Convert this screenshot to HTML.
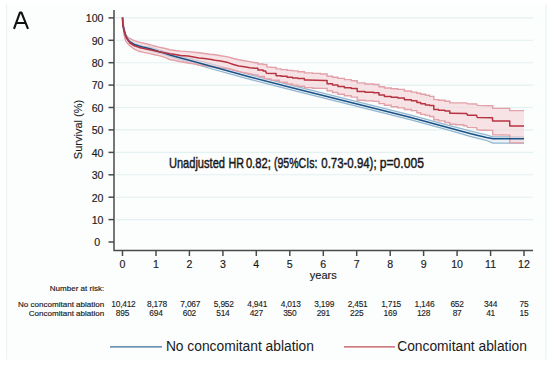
<!DOCTYPE html>
<html><head><meta charset="utf-8"><style>
html,body{margin:0;padding:0;background:#fff;}
svg{display:block;}
text{font-family:"Liberation Sans",sans-serif;fill:#1a1a1a;}
</style></head><body>
<svg width="550" height="367" viewBox="0 0 550 367">
<rect x="0" y="0" width="550" height="367" fill="#fff"/>
<rect x="6" y="3.5" width="540.5" height="356" fill="#fcfdfd"/>
<line x1="6.5" x2="6.5" y1="3.5" y2="359.5" stroke="#edf3f3" stroke-width="1.2"/>
<line x1="546" x2="546" y1="3.5" y2="359.5" stroke="#edf3f3" stroke-width="1.2"/>
<path d="M14,28.8 L19.9,12.6 L21.5,12.6 L28,28.8 M16.1,23.0 L25.9,23.0" fill="none" stroke="#111" stroke-width="2.1" stroke-linejoin="round"/>
<g stroke="#e2f1f1" stroke-width="1.1"><line x1="116" x2="533" y1="219.6" y2="219.6"/><line x1="116" x2="533" y1="197.2" y2="197.2"/><line x1="116" x2="533" y1="174.8" y2="174.8"/><line x1="116" x2="533" y1="152.4" y2="152.4"/><line x1="116" x2="533" y1="129.9" y2="129.9"/><line x1="116" x2="533" y1="107.5" y2="107.5"/><line x1="116" x2="533" y1="85.1" y2="85.1"/><line x1="116" x2="533" y1="62.7" y2="62.7"/><line x1="116" x2="533" y1="40.3" y2="40.3"/><line x1="116" x2="533" y1="17.9" y2="17.9"/></g>
<polygon points="122.5,17.1 122.9,24.6 124.2,30.3 125.3,34.1 126.4,36.8 128.2,39.0 130.0,41.0 134.3,43.5 139.0,45.1 143.8,46.4 150.0,47.1 158.9,49.8 164.3,51.3 169.8,53.2 175.2,54.8 212.0,64.2 250.0,74.6 290.0,84.8 330.0,94.8 370.0,104.8 410.0,114.8 448.7,125.4 470.0,130.8 477.0,132.6 486.5,134.9 493.0,136.8 524.0,136.8 524.0,143.2 493.0,143.2 486.5,140.5 477.0,138.2 470.0,136.4 448.7,130.2 410.0,119.6 370.0,109.6 330.0,99.6 290.0,89.6 250.0,79.4 212.0,69.0 175.2,58.2 169.8,56.6 164.3,54.7 158.9,53.2 150.0,50.5 143.8,48.4 139.0,47.1 134.3,45.5 130.0,43.0 128.2,41.0 126.4,37.6 125.3,34.9 124.2,31.1 122.9,25.4 122.5,17.9" fill="#eaf2f7"/>
<polyline points="122.5,17.1 122.9,24.6 124.2,30.3 125.3,34.1 126.4,36.8 128.2,39.0 130.0,41.0 134.3,43.5 139.0,45.1 143.8,46.4 150.0,47.1 158.9,49.8 164.3,51.3 169.8,53.2 175.2,54.8 212.0,64.2 250.0,74.6 290.0,84.8 330.0,94.8 370.0,104.8 410.0,114.8 448.7,125.4 470.0,130.8 477.0,132.6 486.5,134.9 493.0,136.8 524.0,136.8" fill="none" stroke="#93b7ce" stroke-width="1.25" stroke-linejoin="round"/>
<polyline points="122.5,17.9 122.9,25.4 124.2,31.1 125.3,34.9 126.4,37.6 128.2,41.0 130.0,43.0 134.3,45.5 139.0,47.1 143.8,48.4 150.0,50.5 158.9,53.2 164.3,54.7 169.8,56.6 175.2,58.2 212.0,69.0 250.0,79.4 290.0,89.6 330.0,99.6 370.0,109.6 410.0,119.6 448.7,130.2 470.0,136.4 477.0,138.2 486.5,140.5 493.0,143.2 524.0,143.2" fill="none" stroke="#93b7ce" stroke-width="1.25" stroke-linejoin="round"/>
<polygon points="122.5,17.5 123.8,27.0 124.8,31.0 125.7,34.5 127.6,37.0 129.5,38.3 134.3,40.7 139.0,42.1 143.8,43.2 150.0,44.7 153.4,45.8 158.9,47.1 164.3,48.3 169.8,49.8 175.2,50.5 180.7,51.1 188.0,51.6 193.4,52.1 198.9,52.8 204.3,53.5 209.8,54.3 215.2,54.8 220.7,55.7 228.0,56.9 233.4,58.5 238.9,59.8 244.3,60.7 249.8,61.6 255.2,62.7 257.9,62.7 257.9,64.0 260.7,64.0 263.1,64.0 263.1,64.5 265.6,64.5 266.8,64.5 266.8,67.1 268.0,67.1 271.2,67.1 271.2,67.4 274.5,67.4 276.1,67.4 276.1,68.9 277.8,68.9 281.1,68.9 281.1,69.6 284.3,69.6 287.1,69.6 287.1,70.4 289.8,70.4 292.5,70.4 292.5,70.9 295.2,70.9 297.9,70.9 297.9,71.8 300.7,71.8 304.4,71.8 304.4,72.9 308.0,72.9 312.4,72.9 312.4,73.4 316.7,73.4 320.5,73.4 320.5,74.0 324.3,74.0 327.1,74.0 327.1,76.2 329.8,76.2 332.5,76.2 332.5,77.3 335.2,77.3 337.9,77.3 337.9,78.4 340.7,78.4 344.4,78.4 344.4,79.6 348.0,79.6 351.2,79.6 351.2,80.7 354.5,80.7 357.2,80.7 357.2,82.9 360.0,82.9 364.9,82.9 364.9,84.0 369.8,84.0 373.6,84.0 373.6,84.5 377.4,84.5 379.0,84.5 379.0,86.7 380.7,86.7 384.4,86.7 384.4,88.0 388.0,88.0 391.2,88.0 391.2,88.8 394.5,88.8 397.8,88.8 397.8,89.4 401.1,89.4 404.4,89.4 404.4,91.0 407.6,91.0 411.4,91.0 411.4,92.1 415.2,92.1 416.9,92.1 416.9,93.2 418.5,93.2 420.7,93.2 420.7,94.3 422.9,94.3 425.4,94.3 425.4,95.3 428.0,95.3 429.6,95.3 429.6,96.4 431.3,96.4 433.8,96.4 433.8,99.6 436.2,99.6 438.6,99.6 438.6,100.2 441.1,100.2 444.9,100.2 444.9,101.3 448.7,101.3 449.8,101.3 449.8,102.9 450.9,102.9 466.7,102.9 467.5,103.9 476.5,104.0 477.3,105.4 492.7,105.7 492.8,108.3 509.7,108.4 509.8,110.6 524.0,110.6 524.0,142.9 509.8,142.9 509.7,135.1 492.8,134.8 492.7,130.4 488.9,130.4 488.9,130.2 481.1,130.2 481.1,130.1 477.3,130.1 476.5,127.6 467.5,127.4 466.7,125.8 463.7,125.8 463.7,124.7 460.7,124.7 455.8,124.7 455.8,124.2 450.9,124.2 449.8,124.2 449.8,122.5 448.7,122.5 444.9,122.5 444.9,120.9 441.1,120.9 438.6,120.9 438.6,119.8 436.2,119.8 433.8,119.8 433.8,116.5 431.3,116.5 429.6,116.5 429.6,115.4 428.0,115.4 425.4,115.4 425.4,114.4 422.9,114.4 420.7,114.4 420.7,112.8 418.5,112.8 416.9,112.8 416.9,110.6 415.2,110.6 411.4,110.6 411.4,109.5 407.6,109.5 404.4,109.5 404.4,107.9 401.1,107.9 397.8,107.9 397.8,106.8 394.5,106.8 391.2,106.8 391.2,105.2 388.0,105.2 384.4,105.2 384.4,103.6 380.7,103.6 379.0,103.6 379.0,101.4 377.4,101.4 373.6,101.4 373.6,100.9 369.8,100.9 364.9,100.9 364.9,100.3 360.0,100.3 357.2,100.3 357.2,97.1 354.5,97.1 351.2,97.1 351.2,95.8 348.0,95.8 344.4,95.8 344.4,94.2 340.7,94.2 337.9,94.2 337.9,92.5 335.2,92.5 332.5,92.5 332.5,90.9 329.8,90.9 327.1,90.9 327.1,88.4 324.3,88.4 316.7,88.2 312.4,88.2 312.4,87.6 308.0,87.6 304.4,87.6 304.4,86.2 300.7,86.2 297.9,86.2 297.9,85.1 295.2,85.1 292.5,85.1 292.5,84.0 289.8,84.0 287.1,84.0 287.1,82.3 284.3,82.3 279.4,82.3 279.4,80.2 274.5,80.2 271.2,80.2 271.2,78.9 268.0,78.9 264.4,78.9 264.4,76.5 260.7,76.5 257.9,76.5 257.9,74.9 255.2,74.9 249.8,73.8 244.3,72.7 238.9,71.6 233.4,70.0 228.0,68.5 220.7,68.0 215.2,67.2 209.8,66.6 204.3,65.8 198.9,65.0 193.4,63.8 188.0,63.0 180.7,61.8 175.2,60.5 169.8,59.5 164.3,57.1 158.9,55.6 153.4,54.5 150.0,53.6 143.8,52.4 139.0,51.3 134.3,49.2 129.5,45.4 127.6,43.3 125.7,41.0 124.8,38.3 123.8,33.0 122.5,17.5" fill="#f4d3d8" fill-opacity="0.62"/>
<polyline points="122.5,17.5 123.8,27.0 124.8,31.0 125.7,34.5 127.6,37.0 129.5,38.3 134.3,40.7 139.0,42.1 143.8,43.2 150.0,44.7 153.4,45.8 158.9,47.1 164.3,48.3 169.8,49.8 175.2,50.5 180.7,51.1 188.0,51.6 193.4,52.1 198.9,52.8 204.3,53.5 209.8,54.3 215.2,54.8 220.7,55.7 228.0,56.9 233.4,58.5 238.9,59.8 244.3,60.7 249.8,61.6 255.2,62.7 257.9,62.7 257.9,64.0 260.7,64.0 263.1,64.0 263.1,64.5 265.6,64.5 266.8,64.5 266.8,67.1 268.0,67.1 271.2,67.1 271.2,67.4 274.5,67.4 276.1,67.4 276.1,68.9 277.8,68.9 281.1,68.9 281.1,69.6 284.3,69.6 287.1,69.6 287.1,70.4 289.8,70.4 292.5,70.4 292.5,70.9 295.2,70.9 297.9,70.9 297.9,71.8 300.7,71.8 304.4,71.8 304.4,72.9 308.0,72.9 312.4,72.9 312.4,73.4 316.7,73.4 320.5,73.4 320.5,74.0 324.3,74.0 327.1,74.0 327.1,76.2 329.8,76.2 332.5,76.2 332.5,77.3 335.2,77.3 337.9,77.3 337.9,78.4 340.7,78.4 344.4,78.4 344.4,79.6 348.0,79.6 351.2,79.6 351.2,80.7 354.5,80.7 357.2,80.7 357.2,82.9 360.0,82.9 364.9,82.9 364.9,84.0 369.8,84.0 373.6,84.0 373.6,84.5 377.4,84.5 379.0,84.5 379.0,86.7 380.7,86.7 384.4,86.7 384.4,88.0 388.0,88.0 391.2,88.0 391.2,88.8 394.5,88.8 397.8,88.8 397.8,89.4 401.1,89.4 404.4,89.4 404.4,91.0 407.6,91.0 411.4,91.0 411.4,92.1 415.2,92.1 416.9,92.1 416.9,93.2 418.5,93.2 420.7,93.2 420.7,94.3 422.9,94.3 425.4,94.3 425.4,95.3 428.0,95.3 429.6,95.3 429.6,96.4 431.3,96.4 433.8,96.4 433.8,99.6 436.2,99.6 438.6,99.6 438.6,100.2 441.1,100.2 444.9,100.2 444.9,101.3 448.7,101.3 449.8,101.3 449.8,102.9 450.9,102.9 466.7,102.9 467.5,103.9 476.5,104.0 477.3,105.4 492.7,105.7 492.8,108.3 509.7,108.4 509.8,110.6 524.0,110.6" fill="none" stroke="#e2a0a8" stroke-width="1.4" stroke-linejoin="miter"/>
<polyline points="122.5,17.5 123.8,33.0 124.8,38.3 125.7,41.0 127.6,43.3 129.5,45.4 134.3,49.2 139.0,51.3 143.8,52.4 150.0,53.6 153.4,54.5 158.9,55.6 164.3,57.1 169.8,59.5 175.2,60.5 180.7,61.8 188.0,63.0 193.4,63.8 198.9,65.0 204.3,65.8 209.8,66.6 215.2,67.2 220.7,68.0 228.0,68.5 233.4,70.0 238.9,71.6 244.3,72.7 249.8,73.8 255.2,74.9 257.9,74.9 257.9,76.5 260.7,76.5 264.4,76.5 264.4,78.9 268.0,78.9 271.2,78.9 271.2,80.2 274.5,80.2 279.4,80.2 279.4,82.3 284.3,82.3 287.1,82.3 287.1,84.0 289.8,84.0 292.5,84.0 292.5,85.1 295.2,85.1 297.9,85.1 297.9,86.2 300.7,86.2 304.4,86.2 304.4,87.6 308.0,87.6 312.4,87.6 312.4,88.2 316.7,88.2 324.3,88.4 327.1,88.4 327.1,90.9 329.8,90.9 332.5,90.9 332.5,92.5 335.2,92.5 337.9,92.5 337.9,94.2 340.7,94.2 344.4,94.2 344.4,95.8 348.0,95.8 351.2,95.8 351.2,97.1 354.5,97.1 357.2,97.1 357.2,100.3 360.0,100.3 364.9,100.3 364.9,100.9 369.8,100.9 373.6,100.9 373.6,101.4 377.4,101.4 379.0,101.4 379.0,103.6 380.7,103.6 384.4,103.6 384.4,105.2 388.0,105.2 391.2,105.2 391.2,106.8 394.5,106.8 397.8,106.8 397.8,107.9 401.1,107.9 404.4,107.9 404.4,109.5 407.6,109.5 411.4,109.5 411.4,110.6 415.2,110.6 416.9,110.6 416.9,112.8 418.5,112.8 420.7,112.8 420.7,114.4 422.9,114.4 425.4,114.4 425.4,115.4 428.0,115.4 429.6,115.4 429.6,116.5 431.3,116.5 433.8,116.5 433.8,119.8 436.2,119.8 438.6,119.8 438.6,120.9 441.1,120.9 444.9,120.9 444.9,122.5 448.7,122.5 449.8,122.5 449.8,124.2 450.9,124.2 455.8,124.2 455.8,124.7 460.7,124.7 463.7,124.7 463.7,125.8 466.7,125.8 467.5,127.4 476.5,127.6 477.3,130.1 481.1,130.1 481.1,130.2 488.9,130.2 488.9,130.4 492.7,130.4 492.8,134.8 509.7,135.1 509.8,142.9 524.0,142.9" fill="none" stroke="#e2a0a8" stroke-width="1.4" stroke-linejoin="miter"/>
<polyline points="122.5,17.5 122.9,25.0 124.2,30.7 125.3,34.5 126.4,37.2 128.2,40.0 130.0,42.0 134.3,44.5 139.0,46.1 143.8,47.4 150.0,48.8 158.9,51.5 164.3,53.0 169.8,54.9 175.2,56.5 212.0,66.6 250.0,77.0 290.0,87.2 330.0,97.2 370.0,107.2 410.0,117.2 448.7,127.8 470.0,133.4 477.0,135.2 486.5,137.5 493.0,138.8 524.0,138.8" fill="none" stroke="#1b5287" stroke-width="1.6" stroke-linejoin="round"/>
<polyline points="122.5,17.5 122.9,25.3 124.2,31.2 125.3,35.0 126.4,37.8 128.2,40.6 130.0,43.0 134.3,45.8 139.0,47.4 143.8,48.5 150.0,49.7 153.4,50.5 158.9,51.7 164.3,52.8 169.8,53.8 175.2,54.6 180.7,55.4 188.0,56.1 193.4,57.0 198.9,57.9 204.3,58.6 209.8,59.2 215.2,60.3 220.7,61.1 228.0,62.6 233.4,64.5 238.9,66.0 244.3,66.7 249.8,67.8 255.2,68.3 257.9,68.3 257.9,70.0 260.7,70.0 263.1,70.0 263.1,71.1 265.6,71.1 266.5,73.3 274.5,73.6 276.1,73.6 276.1,75.8 277.8,75.8 281.1,75.8 281.1,76.3 284.3,76.3 287.1,76.3 287.1,77.2 289.8,77.2 292.5,77.2 292.5,78.0 295.2,78.0 297.9,78.0 297.9,78.5 300.7,78.5 304.4,78.5 304.4,80.0 308.0,80.0 316.7,80.2 324.3,80.5 327.1,80.5 327.1,83.8 329.8,83.8 332.5,83.8 332.5,84.9 335.2,84.9 337.9,84.9 337.9,86.5 340.7,86.5 344.4,86.5 344.4,87.8 348.0,87.8 351.2,87.8 351.2,88.4 354.5,88.4 357.2,88.4 357.2,91.6 360.0,91.6 364.9,91.6 364.9,92.2 369.8,92.2 373.6,92.2 373.6,92.7 377.4,92.7 379.0,92.7 379.0,94.9 380.7,94.9 384.4,94.9 384.4,96.4 388.0,96.4 391.2,96.4 391.2,97.2 394.5,97.2 397.8,97.2 397.8,98.1 401.1,98.1 404.4,98.1 404.4,99.7 407.6,99.7 411.4,99.7 411.4,100.8 415.2,100.8 416.9,100.8 416.9,102.4 418.5,102.4 420.7,102.4 420.7,103.7 422.9,103.7 425.4,103.7 425.4,104.9 428.0,104.9 429.6,104.9 429.6,105.6 431.3,105.6 433.8,105.6 433.8,109.4 436.2,109.4 438.6,109.4 438.6,110.3 441.1,110.3 444.9,110.3 444.9,111.1 448.7,111.1 449.8,111.1 449.8,113.3 450.9,113.3 466.7,113.4 467.5,115.2 476.5,115.3 477.3,117.6 492.5,117.8 492.6,121.0 509.7,121.0 509.8,125.9 524.0,125.9" fill="none" stroke="#b63440" stroke-width="1.5" stroke-linejoin="round"/>
<g stroke="#4a4a4a" stroke-width="1.5" fill="none">
<polyline points="114,10 114,250.4 533,250.4"/>
<line x1="108.5" x2="114" y1="242.0" y2="242.0"/><line x1="108.5" x2="114" y1="219.6" y2="219.6"/><line x1="108.5" x2="114" y1="197.2" y2="197.2"/><line x1="108.5" x2="114" y1="174.8" y2="174.8"/><line x1="108.5" x2="114" y1="152.4" y2="152.4"/><line x1="108.5" x2="114" y1="129.9" y2="129.9"/><line x1="108.5" x2="114" y1="107.5" y2="107.5"/><line x1="108.5" x2="114" y1="85.1" y2="85.1"/><line x1="108.5" x2="114" y1="62.7" y2="62.7"/><line x1="108.5" x2="114" y1="40.3" y2="40.3"/><line x1="108.5" x2="114" y1="17.9" y2="17.9"/><line x1="122.5" x2="122.5" y1="250.4" y2="256"/><line x1="156.0" x2="156.0" y1="250.4" y2="256"/><line x1="189.4" x2="189.4" y1="250.4" y2="256"/><line x1="222.9" x2="222.9" y1="250.4" y2="256"/><line x1="256.3" x2="256.3" y1="250.4" y2="256"/><line x1="289.8" x2="289.8" y1="250.4" y2="256"/><line x1="323.3" x2="323.3" y1="250.4" y2="256"/><line x1="356.7" x2="356.7" y1="250.4" y2="256"/><line x1="390.2" x2="390.2" y1="250.4" y2="256"/><line x1="423.6" x2="423.6" y1="250.4" y2="256"/><line x1="457.1" x2="457.1" y1="250.4" y2="256"/><line x1="490.6" x2="490.6" y1="250.4" y2="256"/><line x1="524.0" x2="524.0" y1="250.4" y2="256"/>
</g>
<g style="font-size:10.6px;stroke:#1a1a1a;stroke-width:0.15px" text-anchor="end"><text x="100.2" y="246.3">0</text><text x="103.5" y="223.9">10</text><text x="103.5" y="201.5">20</text><text x="103.5" y="179.1">30</text><text x="103.5" y="156.7">40</text><text x="103.5" y="134.2">50</text><text x="103.5" y="111.8">60</text><text x="103.5" y="89.4">70</text><text x="103.5" y="67.0">80</text><text x="103.5" y="44.6">90</text><text x="103.5" y="22.2">100</text></g>
<g style="font-size:10.6px;stroke:#1a1a1a;stroke-width:0.15px" text-anchor="middle"><text x="122.5" y="267.6">0</text><text x="156.0" y="267.6">1</text><text x="189.4" y="267.6">2</text><text x="222.9" y="267.6">3</text><text x="256.3" y="267.6">4</text><text x="289.8" y="267.6">5</text><text x="323.3" y="267.6">6</text><text x="356.7" y="267.6">7</text><text x="390.2" y="267.6">8</text><text x="423.6" y="267.6">9</text><text x="457.1" y="267.6">10</text><text x="490.6" y="267.6">11</text><text x="524.0" y="267.6">12</text></g>
<text x="323.3" y="279.4" text-anchor="middle" style="font-size:11px;stroke:#1a1a1a;stroke-width:0.15px">years</text>
<text transform="translate(82.4,129.5) rotate(-90)" text-anchor="middle" style="font-size:11px;stroke:#1a1a1a;stroke-width:0.12px">Survival (%)</text>
<g style="font-size:14.8px;fill:#141414;stroke:#141414;stroke-width:0.45px"><text x="168.9" y="167.7" textLength="56.1" lengthAdjust="spacingAndGlyphs">Unadjusted</text><text x="228.4" y="167.7" textLength="15.5" lengthAdjust="spacingAndGlyphs">HR</text><text x="245.9" y="167.7" textLength="24.9" lengthAdjust="spacingAndGlyphs">0.82;</text><text x="273.9" y="167.7" textLength="43.5" lengthAdjust="spacingAndGlyphs">(95%CIs:</text><text x="321.3" y="167.7" textLength="55.3" lengthAdjust="spacingAndGlyphs">0.73-0.94);</text><text x="379.8" y="167.7" textLength="44.1" lengthAdjust="spacingAndGlyphs">p=0.005</text></g>
<g style="font-size:8.05px;stroke:#1a1a1a;stroke-width:0.16px" text-anchor="end">
<text x="104.3" y="291">Number at risk:</text>
<text x="104.3" y="306.7">No concomitant ablation</text>
<text x="104.3" y="316.3">Concomitant ablation</text>
</g>
<g style="font-size:8.4px;letter-spacing:-0.22px;stroke:#1a1a1a;stroke-width:0.12px" text-anchor="middle"><text x="123.4" y="306.7">10,412</text><text x="156.9" y="306.7">8,178</text><text x="190.3" y="306.7">7,067</text><text x="223.8" y="306.7">5,952</text><text x="257.2" y="306.7">4,941</text><text x="290.7" y="306.7">4,013</text><text x="324.2" y="306.7">3,199</text><text x="357.6" y="306.7">2,451</text><text x="391.1" y="306.7">1,715</text><text x="424.5" y="306.7">1,146</text><text x="457.1" y="306.7">652</text><text x="490.6" y="306.7">344</text><text x="524.0" y="306.7">75</text><text x="122.5" y="316.1">895</text><text x="156.0" y="316.1">694</text><text x="189.4" y="316.1">602</text><text x="222.9" y="316.1">514</text><text x="256.3" y="316.1">427</text><text x="289.8" y="316.1">350</text><text x="323.3" y="316.1">291</text><text x="356.7" y="316.1">225</text><text x="390.2" y="316.1">169</text><text x="423.6" y="316.1">128</text><text x="457.1" y="316.1">87</text><text x="490.6" y="316.1">41</text><text x="524.0" y="316.1">15</text></g>
<line x1="110" x2="162" y1="346.9" y2="346.9" stroke="#3a6b99" stroke-width="1.4"/>
<text x="165.9" y="351.3" style="font-size:13.8px">No concomitant ablation</text>
<line x1="344" x2="395" y1="346.9" y2="346.9" stroke="#c0505a" stroke-width="1.4"/>
<text x="397.2" y="351.3" style="font-size:13.8px">Concomitant ablation</text>
</svg>
</body></html>
